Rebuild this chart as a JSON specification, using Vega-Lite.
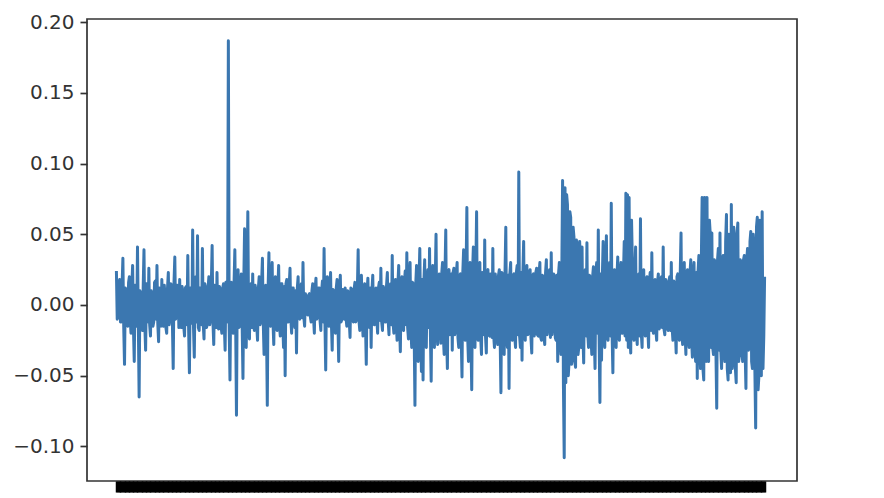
{
  "$schema": "https://vega.github.io/schema/vega-lite/v6.json",
  "autosize": "none",
  "width": 710,
  "height": 462,
  "padding": {"left": 87, "top": 19, "right": 87, "bottom": 17},
  "background": "white",
  "config": {
    "view": {"stroke": "#333333", "strokeWidth": 1.7},
    "axis": {"labelFont": "DejaVu Sans", "grid": false, "domain": false}
  },
  "data": {
    "values": [
      {"i":0,"v":0.024},{"i":1,"v":-0.010},{"i":2,"v":-0.008},{"i":3,"v":0.015},{"i":4,"v":0.018},{"i":5,"v":-0.012},{"i":6,"v":-0.012},{"i":7,"v":0.014},{"i":8,"v":0.033},{"i":9,"v":-0.015},
      {"i":10,"v":-0.042},{"i":11,"v":0.012},{"i":12,"v":0.010},{"i":13,"v":-0.014},{"i":14,"v":-0.015},{"i":15,"v":0.016},{"i":16,"v":0.020},{"i":17,"v":-0.010},{"i":18,"v":-0.020},{"i":19,"v":0.013},
      {"i":20,"v":0.028},{"i":21,"v":-0.016},{"i":22,"v":-0.040},{"i":23,"v":0.014},{"i":24,"v":0.012},{"i":25,"v":-0.015},{"i":26,"v":0.041},{"i":27,"v":-0.012},{"i":28,"v":-0.065},{"i":29,"v":0.010},
      {"i":30,"v":0.008},{"i":31,"v":-0.016},{"i":32,"v":-0.018},{"i":33,"v":0.012},{"i":34,"v":0.039},{"i":35,"v":-0.014},{"i":36,"v":-0.032},{"i":37,"v":0.015},{"i":38,"v":0.015},{"i":39,"v":-0.012},
      {"i":40,"v":0.026},{"i":41,"v":-0.014},{"i":42,"v":-0.022},{"i":43,"v":0.010},{"i":44,"v":0.005},{"i":45,"v":-0.015},{"i":46,"v":-0.012},{"i":47,"v":0.016},{"i":48,"v":0.017},{"i":49,"v":-0.010},
      {"i":50,"v":0.028},{"i":51,"v":-0.013},{"i":52,"v":-0.026},{"i":53,"v":0.012},{"i":54,"v":0.010},{"i":55,"v":-0.015},{"i":56,"v":0.018},{"i":57,"v":-0.012},{"i":58,"v":-0.015},{"i":59,"v":0.014},
      {"i":60,"v":0.006},{"i":61,"v":-0.016},{"i":62,"v":-0.020},{"i":63,"v":0.012},{"i":64,"v":0.023},{"i":65,"v":-0.014},{"i":66,"v":-0.010},{"i":67,"v":0.015},{"i":68,"v":0.014},{"i":69,"v":-0.012},
      {"i":70,"v":-0.045},{"i":71,"v":0.016},{"i":72,"v":0.034},{"i":73,"v":-0.010},{"i":74,"v":-0.008},{"i":75,"v":0.014},{"i":76,"v":0.012},{"i":77,"v":-0.016},{"i":78,"v":0.018},{"i":79,"v":-0.012},
      {"i":80,"v":-0.016},{"i":81,"v":0.013},{"i":82,"v":0.007},{"i":83,"v":-0.015},{"i":84,"v":-0.022},{"i":85,"v":0.012},{"i":86,"v":0.013},{"i":87,"v":-0.014},{"i":88,"v":0.035},{"i":89,"v":-0.016},
      {"i":90,"v":-0.048},{"i":91,"v":0.012},{"i":92,"v":0.010},{"i":93,"v":-0.013},{"i":94,"v":0.053},{"i":95,"v":-0.015},{"i":96,"v":-0.037},{"i":97,"v":0.014},{"i":98,"v":0.020},{"i":99,"v":-0.012},
      {"i":100,"v":0.049},{"i":101,"v":-0.016},{"i":102,"v":-0.018},{"i":103,"v":0.012},{"i":104,"v":0.006},{"i":105,"v":-0.014},{"i":106,"v":0.040},{"i":107,"v":-0.013},{"i":108,"v":-0.024},{"i":109,"v":0.015},
      {"i":110,"v":0.012},{"i":111,"v":-0.016},{"i":112,"v":-0.014},{"i":113,"v":0.012},{"i":114,"v":0.020},{"i":115,"v":-0.014},{"i":116,"v":-0.010},{"i":117,"v":0.015},{"i":118,"v":0.042},{"i":119,"v":-0.012},
      {"i":120,"v":-0.028},{"i":121,"v":0.014},{"i":122,"v":0.008},{"i":123,"v":-0.016},{"i":124,"v":0.023},{"i":125,"v":-0.012},{"i":126,"v":-0.017},{"i":127,"v":0.013},{"i":128,"v":0.011},{"i":129,"v":-0.015},
      {"i":130,"v":-0.020},{"i":131,"v":0.012},{"i":132,"v":0.015},{"i":133,"v":-0.014},{"i":134,"v":-0.032},{"i":135,"v":0.016},{"i":136,"v":0.010},{"i":137,"v":-0.012},{"i":138,"v":0.187},{"i":139,"v":-0.015},
      {"i":140,"v":-0.053},{"i":141,"v":0.012},{"i":142,"v":0.016},{"i":143,"v":-0.014},{"i":144,"v":-0.020},{"i":145,"v":0.015},{"i":146,"v":0.039},{"i":147,"v":-0.013},{"i":148,"v":-0.078},{"i":149,"v":0.014},
      {"i":150,"v":0.025},{"i":151,"v":-0.016},{"i":152,"v":-0.015},{"i":153,"v":0.012},{"i":154,"v":0.022},{"i":155,"v":-0.014},{"i":156,"v":-0.052},{"i":157,"v":0.015},{"i":158,"v":0.054},{"i":159,"v":-0.012},
      {"i":160,"v":-0.030},{"i":161,"v":0.013},{"i":162,"v":0.066},{"i":163,"v":-0.015},{"i":164,"v":-0.024},{"i":165,"v":0.012},{"i":166,"v":0.015},{"i":167,"v":-0.016},{"i":168,"v":0.022},{"i":169,"v":-0.012},
      {"i":170,"v":-0.018},{"i":171,"v":0.014},{"i":172,"v":0.010},{"i":173,"v":-0.015},{"i":174,"v":-0.025},{"i":175,"v":0.012},{"i":176,"v":0.020},{"i":177,"v":-0.014},{"i":178,"v":-0.012},{"i":179,"v":0.016},
      {"i":180,"v":0.033},{"i":181,"v":-0.012},{"i":182,"v":-0.035},{"i":183,"v":0.013},{"i":184,"v":0.014},{"i":185,"v":-0.015},{"i":186,"v":-0.071},{"i":187,"v":0.012},{"i":188,"v":0.037},{"i":189,"v":-0.014},
      {"i":190,"v":-0.015},{"i":191,"v":0.015},{"i":192,"v":0.030},{"i":193,"v":-0.012},{"i":194,"v":-0.028},{"i":195,"v":0.014},{"i":196,"v":0.020},{"i":197,"v":-0.016},{"i":198,"v":-0.018},{"i":199,"v":0.012},
      {"i":200,"v":0.028},{"i":201,"v":-0.014},{"i":202,"v":-0.022},{"i":203,"v":0.015},{"i":204,"v":0.015},{"i":205,"v":-0.012},{"i":206,"v":-0.030},{"i":207,"v":0.013},{"i":208,"v":-0.050},{"i":209,"v":0.015},
      {"i":210,"v":0.018},{"i":211,"v":-0.012},{"i":212,"v":-0.012},{"i":213,"v":0.014},{"i":214,"v":0.026},{"i":215,"v":-0.010},{"i":216,"v":-0.020},{"i":217,"v":0.012},{"i":218,"v":0.012},{"i":219,"v":-0.010},
      {"i":220,"v":-0.016},{"i":221,"v":0.010},{"i":222,"v":-0.034},{"i":223,"v":0.012},{"i":224,"v":0.020},{"i":225,"v":-0.008},{"i":226,"v":-0.010},{"i":227,"v":0.011},{"i":228,"v":0.015},{"i":229,"v":-0.009},
      {"i":230,"v":0.030},{"i":231,"v":-0.008},{"i":232,"v":-0.015},{"i":233,"v":0.008},{"i":234,"v":0.004},{"i":235,"v":-0.006},{"i":236,"v":-0.007},{"i":237,"v":0.007},{"i":238,"v":0.008},{"i":239,"v":-0.008},
      {"i":240,"v":-0.012},{"i":241,"v":0.010},{"i":242,"v":0.015},{"i":243,"v":-0.009},{"i":244,"v":-0.020},{"i":245,"v":0.011},{"i":246,"v":0.019},{"i":247,"v":-0.010},{"i":248,"v":-0.008},{"i":249,"v":0.012},
      {"i":250,"v":0.012},{"i":251,"v":-0.011},{"i":252,"v":-0.018},{"i":253,"v":0.010},{"i":254,"v":0.017},{"i":255,"v":-0.012},{"i":256,"v":0.040},{"i":257,"v":-0.010},{"i":258,"v":-0.046},{"i":259,"v":0.012},
      {"i":260,"v":0.020},{"i":261,"v":-0.011},{"i":262,"v":-0.015},{"i":263,"v":0.010},{"i":264,"v":0.023},{"i":265,"v":-0.012},{"i":266,"v":-0.032},{"i":267,"v":0.011},{"i":268,"v":0.010},{"i":269,"v":-0.010},
      {"i":270,"v":-0.020},{"i":271,"v":0.012},{"i":272,"v":0.018},{"i":273,"v":-0.011},{"i":274,"v":-0.040},{"i":275,"v":0.010},{"i":276,"v":0.021},{"i":277,"v":-0.012},{"i":278,"v":-0.010},{"i":279,"v":0.011},
      {"i":280,"v":0.008},{"i":281,"v":-0.010},{"i":282,"v":0.012},{"i":283,"v":-0.009},{"i":284,"v":-0.015},{"i":285,"v":0.010},{"i":286,"v":0.009},{"i":287,"v":-0.011},{"i":288,"v":-0.023},{"i":289,"v":0.012},
      {"i":290,"v":0.011},{"i":291,"v":-0.010},{"i":292,"v":-0.012},{"i":293,"v":0.011},{"i":294,"v":0.016},{"i":295,"v":-0.012},{"i":296,"v":-0.010},{"i":297,"v":0.010},{"i":298,"v":0.039},{"i":299,"v":-0.011},
      {"i":300,"v":-0.018},{"i":301,"v":0.012},{"i":302,"v":0.021},{"i":303,"v":-0.010},{"i":304,"v":-0.022},{"i":305,"v":0.011},{"i":306,"v":0.015},{"i":307,"v":-0.012},{"i":308,"v":-0.042},{"i":309,"v":0.010},
      {"i":310,"v":0.019},{"i":311,"v":-0.011},{"i":312,"v":-0.016},{"i":313,"v":0.012},{"i":314,"v":-0.030},{"i":315,"v":0.010},{"i":316,"v":0.021},{"i":317,"v":-0.012},{"i":318,"v":-0.014},{"i":319,"v":0.011},
      {"i":320,"v":0.012},{"i":321,"v":-0.010},{"i":322,"v":-0.020},{"i":323,"v":0.012},{"i":324,"v":0.016},{"i":325,"v":-0.011},{"i":326,"v":0.026},{"i":327,"v":-0.012},{"i":328,"v":-0.018},{"i":329,"v":0.013},
      {"i":330,"v":0.010},{"i":331,"v":-0.012},{"i":332,"v":-0.012},{"i":333,"v":0.014},{"i":334,"v":0.023},{"i":335,"v":-0.011},{"i":336,"v":-0.021},{"i":337,"v":0.013},{"i":338,"v":0.015},{"i":339,"v":-0.014},
      {"i":340,"v":0.035},{"i":341,"v":-0.012},{"i":342,"v":-0.020},{"i":343,"v":0.014},{"i":344,"v":0.018},{"i":345,"v":-0.013},{"i":346,"v":-0.025},{"i":347,"v":0.015},{"i":348,"v":0.028},{"i":349,"v":-0.014},
      {"i":350,"v":-0.033},{"i":351,"v":0.016},{"i":352,"v":0.020},{"i":353,"v":-0.015},{"i":354,"v":-0.018},{"i":355,"v":0.016},{"i":356,"v":0.024},{"i":357,"v":-0.014},{"i":358,"v":0.037},{"i":359,"v":-0.016},
      {"i":360,"v":-0.024},{"i":361,"v":0.015},{"i":362,"v":0.030},{"i":363,"v":-0.017},{"i":364,"v":-0.030},{"i":365,"v":0.016},{"i":366,"v":0.015},{"i":367,"v":-0.018},{"i":368,"v":-0.071},{"i":369,"v":0.015},
      {"i":370,"v":0.028},{"i":371,"v":-0.018},{"i":372,"v":-0.040},{"i":373,"v":0.017},{"i":374,"v":0.040},{"i":375,"v":-0.016},{"i":376,"v":-0.047},{"i":377,"v":0.018},{"i":378,"v":-0.053},{"i":379,"v":0.016},
      {"i":380,"v":0.032},{"i":381,"v":-0.018},{"i":382,"v":-0.030},{"i":383,"v":0.017},{"i":384,"v":0.025},{"i":385,"v":-0.016},{"i":386,"v":0.040},{"i":387,"v":-0.018},{"i":388,"v":-0.054},{"i":389,"v":0.017},
      {"i":390,"v":0.028},{"i":391,"v":-0.018},{"i":392,"v":-0.030},{"i":393,"v":0.016},{"i":394,"v":0.050},{"i":395,"v":-0.017},{"i":396,"v":-0.028},{"i":397,"v":0.018},{"i":398,"v":0.022},{"i":399,"v":-0.016},
      {"i":400,"v":-0.027},{"i":401,"v":0.022},{"i":402,"v":0.030},{"i":403,"v":-0.022},{"i":404,"v":-0.035},{"i":405,"v":0.021},{"i":406,"v":0.053},{"i":407,"v":-0.022},{"i":408,"v":-0.045},{"i":409,"v":0.023},
      {"i":410,"v":0.025},{"i":411,"v":-0.021},{"i":412,"v":-0.020},{"i":413,"v":0.022},{"i":414,"v":-0.032},{"i":415,"v":0.023},{"i":416,"v":0.026},{"i":417,"v":-0.021},{"i":418,"v":-0.018},{"i":419,"v":0.022},
      {"i":420,"v":0.030},{"i":421,"v":-0.023},{"i":422,"v":-0.030},{"i":423,"v":0.021},{"i":424,"v":0.022},{"i":425,"v":-0.022},{"i":426,"v":-0.051},{"i":427,"v":0.023},{"i":428,"v":0.039},{"i":429,"v":-0.021},
      {"i":430,"v":-0.025},{"i":431,"v":0.022},{"i":432,"v":0.069},{"i":433,"v":-0.023},{"i":434,"v":-0.040},{"i":435,"v":0.021},{"i":436,"v":0.030},{"i":437,"v":-0.022},{"i":438,"v":-0.060},{"i":439,"v":0.023},
      {"i":440,"v":0.041},{"i":441,"v":-0.021},{"i":442,"v":-0.030},{"i":443,"v":0.022},{"i":444,"v":0.066},{"i":445,"v":-0.023},{"i":446,"v":-0.025},{"i":447,"v":0.021},{"i":448,"v":0.030},{"i":449,"v":-0.022},
      {"i":450,"v":-0.035},{"i":451,"v":0.023},{"i":452,"v":0.020},{"i":453,"v":-0.021},{"i":454,"v":0.046},{"i":455,"v":-0.022},{"i":456,"v":-0.034},{"i":457,"v":0.023},{"i":458,"v":0.025},{"i":459,"v":-0.021},
      {"i":460,"v":-0.022},{"i":461,"v":0.022},{"i":462,"v":0.018},{"i":463,"v":-0.023},{"i":464,"v":0.040},{"i":465,"v":-0.021},{"i":466,"v":-0.030},{"i":467,"v":0.022},{"i":468,"v":0.015},{"i":469,"v":-0.023},
      {"i":470,"v":-0.028},{"i":471,"v":0.021},{"i":472,"v":0.025},{"i":473,"v":-0.022},{"i":474,"v":-0.062},{"i":475,"v":0.023},{"i":476,"v":0.022},{"i":477,"v":-0.021},{"i":478,"v":-0.035},{"i":479,"v":0.022},
      {"i":480,"v":0.055},{"i":481,"v":-0.023},{"i":482,"v":-0.030},{"i":483,"v":0.021},{"i":484,"v":-0.059},{"i":485,"v":0.022},{"i":486,"v":0.030},{"i":487,"v":-0.023},{"i":488,"v":-0.025},{"i":489,"v":0.021},
      {"i":490,"v":0.022},{"i":491,"v":-0.022},{"i":492,"v":-0.030},{"i":493,"v":0.023},{"i":494,"v":0.028},{"i":495,"v":-0.021},{"i":496,"v":0.094},{"i":497,"v":-0.022},{"i":498,"v":-0.030},{"i":499,"v":0.023},
      {"i":500,"v":-0.039},{"i":501,"v":0.021},{"i":502,"v":0.045},{"i":503,"v":-0.022},{"i":504,"v":-0.025},{"i":505,"v":0.023},{"i":506,"v":0.028},{"i":507,"v":-0.021},{"i":508,"v":-0.020},{"i":509,"v":0.022},
      {"i":510,"v":0.025},{"i":511,"v":-0.023},{"i":512,"v":-0.034},{"i":513,"v":0.021},{"i":514,"v":0.022},{"i":515,"v":-0.022},{"i":516,"v":-0.018},{"i":517,"v":0.023},{"i":518,"v":0.026},{"i":519,"v":-0.021},
      {"i":520,"v":-0.022},{"i":521,"v":0.022},{"i":522,"v":0.030},{"i":523,"v":-0.023},{"i":524,"v":-0.025},{"i":525,"v":0.021},{"i":526,"v":0.020},{"i":527,"v":-0.022},{"i":528,"v":-0.028},{"i":529,"v":0.023},
      {"i":530,"v":0.032},{"i":531,"v":-0.021},{"i":532,"v":-0.015},{"i":533,"v":0.022},{"i":534,"v":0.025},{"i":535,"v":-0.023},{"i":536,"v":0.037},{"i":537,"v":-0.021},{"i":538,"v":-0.012},{"i":539,"v":0.022},
      {"i":540,"v":0.020},{"i":541,"v":-0.023},{"i":542,"v":-0.025},{"i":543,"v":0.021},{"i":544,"v":-0.040},{"i":545,"v":0.022},{"i":546,"v":0.030},{"i":547,"v":-0.023},{"i":548,"v":-0.035},{"i":549,"v":0.021},
      {"i":550,"v":0.088},{"i":551,"v":-0.055},{"i":552,"v":-0.108},{"i":553,"v":0.083},{"i":554,"v":-0.055},{"i":555,"v":0.078},{"i":556,"v":0.071},{"i":557,"v":-0.050},{"i":558,"v":-0.040},{"i":559,"v":0.066},
      {"i":560,"v":0.062},{"i":561,"v":-0.042},{"i":562,"v":-0.035},{"i":563,"v":0.055},{"i":564,"v":0.048},{"i":565,"v":-0.040},{"i":566,"v":-0.044},{"i":567,"v":0.046},{"i":568,"v":0.040},{"i":569,"v":-0.035},
      {"i":570,"v":-0.030},{"i":571,"v":0.045},{"i":572,"v":0.030},{"i":573,"v":-0.030},{"i":574,"v":0.041},{"i":575,"v":-0.020},{"i":576,"v":-0.041},{"i":577,"v":0.021},{"i":578,"v":0.025},{"i":579,"v":-0.022},
      {"i":580,"v":0.044},{"i":581,"v":-0.020},{"i":582,"v":-0.030},{"i":583,"v":0.021},{"i":584,"v":0.020},{"i":585,"v":-0.022},{"i":586,"v":-0.035},{"i":587,"v":0.020},{"i":588,"v":0.027},{"i":589,"v":-0.021},
      {"i":590,"v":-0.045},{"i":591,"v":0.022},{"i":592,"v":0.030},{"i":593,"v":-0.020},{"i":594,"v":0.053},{"i":595,"v":-0.021},{"i":596,"v":-0.069},{"i":597,"v":0.022},{"i":598,"v":-0.039},{"i":599,"v":0.020},
      {"i":600,"v":0.045},{"i":601,"v":-0.021},{"i":602,"v":-0.030},{"i":603,"v":0.022},{"i":604,"v":0.049},{"i":605,"v":-0.020},{"i":606,"v":-0.025},{"i":607,"v":0.021},{"i":608,"v":0.030},{"i":609,"v":-0.022},
      {"i":610,"v":0.072},{"i":611,"v":-0.020},{"i":612,"v":-0.048},{"i":613,"v":0.021},{"i":614,"v":0.025},{"i":615,"v":-0.022},{"i":616,"v":-0.030},{"i":617,"v":0.020},{"i":618,"v":0.034},{"i":619,"v":-0.021},
      {"i":620,"v":-0.025},{"i":621,"v":0.022},{"i":622,"v":0.030},{"i":623,"v":-0.020},{"i":624,"v":-0.020},{"i":625,"v":0.021},{"i":626,"v":0.045},{"i":627,"v":-0.022},{"i":628,"v":0.079},{"i":629,"v":-0.025},
      {"i":630,"v":0.078},{"i":631,"v":-0.030},{"i":632,"v":0.076},{"i":633,"v":-0.022},{"i":634,"v":-0.034},{"i":635,"v":0.060},{"i":636,"v":0.030},{"i":637,"v":-0.021},{"i":638,"v":-0.025},{"i":639,"v":0.022},
      {"i":640,"v":0.041},{"i":641,"v":-0.020},{"i":642,"v":-0.028},{"i":643,"v":0.021},{"i":644,"v":0.022},{"i":645,"v":-0.022},{"i":646,"v":0.061},{"i":647,"v":-0.020},{"i":648,"v":-0.030},{"i":649,"v":0.018},
      {"i":650,"v":0.025},{"i":651,"v":-0.017},{"i":652,"v":-0.022},{"i":653,"v":0.018},{"i":654,"v":0.020},{"i":655,"v":-0.016},{"i":656,"v":-0.030},{"i":657,"v":0.017},{"i":658,"v":0.023},{"i":659,"v":-0.018},
      {"i":660,"v":0.037},{"i":661,"v":-0.016},{"i":662,"v":-0.020},{"i":663,"v":0.017},{"i":664,"v":0.018},{"i":665,"v":-0.018},{"i":666,"v":-0.025},{"i":667,"v":0.016},{"i":668,"v":0.022},{"i":669,"v":-0.017},
      {"i":670,"v":-0.015},{"i":671,"v":0.018},{"i":672,"v":0.020},{"i":673,"v":-0.016},{"i":674,"v":0.041},{"i":675,"v":-0.017},{"i":676,"v":-0.021},{"i":677,"v":0.018},{"i":678,"v":0.015},{"i":679,"v":-0.016},
      {"i":680,"v":-0.018},{"i":681,"v":0.017},{"i":682,"v":0.020},{"i":683,"v":-0.018},{"i":684,"v":0.030},{"i":685,"v":-0.016},{"i":686,"v":-0.025},{"i":687,"v":0.017},{"i":688,"v":0.015},{"i":689,"v":-0.018},
      {"i":690,"v":-0.034},{"i":691,"v":0.020},{"i":692,"v":0.022},{"i":693,"v":-0.021},{"i":694,"v":-0.025},{"i":695,"v":0.022},{"i":696,"v":0.051},{"i":697,"v":-0.020},{"i":698,"v":-0.028},{"i":699,"v":0.022},
      {"i":700,"v":0.030},{"i":701,"v":-0.021},{"i":702,"v":-0.035},{"i":703,"v":0.022},{"i":704,"v":0.025},{"i":705,"v":-0.023},{"i":706,"v":-0.030},{"i":707,"v":0.022},{"i":708,"v":0.032},{"i":709,"v":-0.024},
      {"i":710,"v":-0.037},{"i":711,"v":0.022},{"i":712,"v":0.030},{"i":713,"v":-0.025},{"i":714,"v":-0.040},{"i":715,"v":0.023},{"i":716,"v":-0.052},{"i":717,"v":0.024},{"i":718,"v":0.035},{"i":719,"v":-0.025},
      {"i":720,"v":-0.045},{"i":721,"v":0.030},{"i":722,"v":0.076},{"i":723,"v":-0.045},{"i":724,"v":-0.053},{"i":725,"v":0.076},{"i":726,"v":0.074},{"i":727,"v":-0.040},{"i":728,"v":0.076},{"i":729,"v":-0.035},
      {"i":730,"v":-0.040},{"i":731,"v":0.060},{"i":732,"v":0.050},{"i":733,"v":-0.030},{"i":734,"v":0.051},{"i":735,"v":-0.030},{"i":736,"v":-0.035},{"i":737,"v":0.032},{"i":738,"v":0.030},{"i":739,"v":-0.032},
      {"i":740,"v":-0.073},{"i":741,"v":0.032},{"i":742,"v":0.040},{"i":743,"v":-0.032},{"i":744,"v":0.051},{"i":745,"v":-0.032},{"i":746,"v":-0.045},{"i":747,"v":0.032},{"i":748,"v":0.035},{"i":749,"v":-0.032},
      {"i":750,"v":-0.040},{"i":751,"v":0.045},{"i":752,"v":0.064},{"i":753,"v":-0.045},{"i":754,"v":-0.053},{"i":755,"v":0.050},{"i":756,"v":0.040},{"i":757,"v":-0.048},{"i":758,"v":0.071},{"i":759,"v":-0.045},
      {"i":760,"v":-0.040},{"i":761,"v":0.055},{"i":762,"v":0.045},{"i":763,"v":-0.045},{"i":764,"v":-0.055},{"i":765,"v":0.050},{"i":766,"v":0.058},{"i":767,"v":-0.040},{"i":768,"v":-0.035},{"i":769,"v":0.032},
      {"i":770,"v":0.030},{"i":771,"v":-0.032},{"i":772,"v":-0.040},{"i":773,"v":0.032},{"i":774,"v":0.035},{"i":775,"v":-0.032},{"i":776,"v":-0.059},{"i":777,"v":0.032},{"i":778,"v":0.040},{"i":779,"v":-0.032},
      {"i":780,"v":-0.030},{"i":781,"v":0.045},{"i":782,"v":0.052},{"i":783,"v":-0.040},{"i":784,"v":-0.045},{"i":785,"v":0.050},{"i":786,"v":0.040},{"i":787,"v":-0.045},{"i":788,"v":-0.087},{"i":789,"v":0.055},
      {"i":790,"v":0.062},{"i":791,"v":-0.060},{"i":792,"v":-0.050},{"i":793,"v":0.060},{"i":794,"v":0.055},{"i":795,"v":-0.050},{"i":796,"v":0.066},{"i":797,"v":-0.045},{"i":798,"v":-0.022},{"i":799,"v":0.020}
    ]
  },
  "mark": {"type": "line", "color": "#3b77b0", "strokeWidth": 3, "strokeJoin": "round"},
  "encoding": {
    "x": {
      "field": "i",
      "type": "ordinal",
      "sort": "ascending",
      "scale": {"type": "point", "range": [29, 678]},
      "axis": {"title": null, "labels": false, "ticks": true, "tickSize": 11, "tickWidth": 1.5, "tickColor": "black"}
    },
    "y": {
      "field": "v",
      "type": "quantitative",
      "scale": {"domain": [-0.1245, 0.2023], "nice": false, "zero": false},
      "axis": {
        "title": null,
        "values": [-0.1, -0.05, 0, 0.05, 0.1, 0.15, 0.2],
        "format": ".2f",
        "labelFontSize": 20,
        "labelColor": "#333333",
        "labelPadding": 6,
        "tickSize": 7,
        "tickWidth": 1.7,
        "tickColor": "#333333"
      }
    }
  }
}
